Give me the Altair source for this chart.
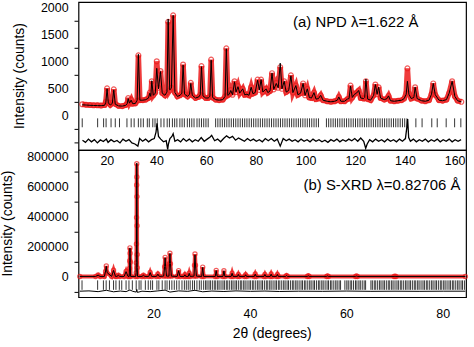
import altair as alt
import pandas as pd

FONT = "Liberation Sans"
RED = "#ec1a1a"

# ---------------- Panel (a): NPD ----------------
tth_a = [
    9.9, 11.5, 13.0, 14.5, 16.0, 17.5, 18.9, 19.4, 19.9, 20.4,
    21.2, 22.0, 22.6, 23.2, 24.5, 26.0, 27.4, 28.0, 28.4, 28.9,
    29.6, 30.2, 31.3, 32.0, 32.5, 33.1, 34.3, 35.5, 36.6, 37.1,
    37.5, 37.9, 38.5, 39.3, 39.9, 40.6, 41.4, 42.1, 43.2, 44.0,
    44.5, 45.1, 45.8, 46.5, 47.2, 48.2, 49.3, 50.0, 50.5, 51.1,
    52.3, 53.1, 53.6, 54.2, 55.5, 56.8, 57.4, 57.9, 58.5, 59.6,
    60.6, 61.3, 61.8, 62.4, 63.6, 65.0, 66.5, 67.4, 67.9, 68.5,
    69.1, 69.7, 70.4, 71.2, 71.8, 72.6, 73.3, 74.5, 75.3, 76.2,
    77.0, 77.9, 78.6, 79.5, 80.5, 81.2, 81.9, 82.6, 83.9, 84.6,
    85.5, 86.3, 87.0, 88.0, 88.8, 89.6, 90.3, 91.2, 92.0, 93.0,
    93.9, 94.7, 95.9, 96.7, 97.8, 98.8, 99.6, 100.5, 101.3, 102.2,
    103.2, 104.0, 105.0, 105.9, 106.8, 108.5, 110.0, 111.5, 112.6, 113.2,
    114.0, 115.5, 116.6, 117.3, 117.9, 118.6, 119.5, 120.3, 121.2, 122.0,
    123.2, 123.6, 124.1, 124.8, 126.0, 127.2, 127.9, 128.6, 129.2, 130.0,
    131.5, 132.6, 133.2, 134.0, 135.5, 137.0, 138.5, 139.5, 140.3, 140.8,
    141.4, 142.3, 143.4, 143.9, 144.7, 146.5, 148.0, 149.5, 150.5, 151.2,
    152.0, 153.5, 155.0, 156.5, 157.6, 158.8, 159.9, 161.0, 162.5]
obs_a = [
    215, 205, 200, 195, 195, 190, 200, 260, 510, 250,
    205, 240, 490, 220, 185, 180, 200, 230, 330, 240,
    300, 225, 230, 280, 1120, 290, 290, 300, 330, 430,
    360, 640, 380, 430, 1010, 520, 830, 420, 380, 430,
    1740, 470, 520, 1860, 430, 360, 380, 420, 950, 400,
    360, 400, 610, 380, 330, 350, 390, 920, 370, 330,
    330, 360, 1040, 340, 300, 290, 300, 360, 1250, 380,
    400, 480, 390, 640, 440, 550, 420, 500, 390, 400,
    380, 530, 410, 430, 670, 480, 670, 440, 500, 430,
    460, 790, 490, 610, 520, 900, 500, 640, 440, 470,
    750, 430, 560, 390, 420, 600, 380, 500, 340, 330,
    430, 310, 320, 380, 290, 270, 260, 270, 290, 350,
    270, 270, 310, 320, 560, 340, 400, 430, 470, 330,
    320, 340, 640, 310, 290, 380, 580, 400, 530, 330,
    300, 320, 370, 280, 270, 280, 290, 320, 420, 880,
    410, 320, 340, 530, 320, 280, 270, 290, 400, 600,
    390, 290, 280, 300, 420, 640, 360, 280, 260]
calc_a = [
    205, 200, 195, 192, 190, 188, 195, 250, 500, 240,
    200, 230, 480, 215, 185, 180, 195, 225, 320, 235,
    290, 225, 230, 290, 1140, 290, 290, 300, 330, 420,
    360, 650, 380, 420, 880, 500, 820, 420, 380, 440,
    1790, 480, 510, 1860, 430, 360, 380, 420, 940, 400,
    360, 400, 600, 380, 330, 350, 390, 910, 370, 330,
    330, 360, 1030, 340, 300, 290, 300, 360, 1240, 380,
    400, 470, 390, 630, 440, 540, 420, 500, 390, 400,
    380, 530, 410, 430, 660, 480, 670, 440, 500, 430,
    460, 790, 490, 600, 520, 975, 500, 640, 440, 470,
    740, 430, 560, 390, 420, 600, 380, 500, 340, 330,
    430, 310, 320, 380, 290, 270, 260, 270, 290, 350,
    270, 270, 310, 320, 550, 340, 400, 420, 470, 330,
    320, 340, 680, 310, 290, 380, 580, 400, 530, 330,
    300, 320, 370, 280, 270, 280, 290, 320, 400, 640,
    400, 320, 340, 530, 320, 280, 270, 290, 400, 600,
    390, 290, 280, 300, 420, 640, 360, 280, 260]

diff_a_x = [
    10.0, 11.2, 12.4, 13.6, 14.8, 16.0, 17.2, 18.4, 19.6, 20.3,
    21.5, 22.7, 23.9, 25.1, 26.3, 27.5, 28.7, 29.9, 31.1, 32.3,
    33.0, 34.2, 35.4, 36.6, 37.8, 38.9, 39.6, 40.0, 40.6, 41.5,
    42.6, 43.7, 44.3, 44.6, 45.2, 46.0, 46.5, 47.2, 48.3, 49.5,
    50.6, 51.8, 53.0, 54.2, 55.4, 56.6, 57.8, 59.0, 60.2, 61.4,
    62.0, 63.2, 64.4, 65.6, 66.8, 68.0, 69.2, 70.4, 71.6, 72.8,
    74.0, 75.2, 76.4, 77.6, 78.8, 80.0, 81.2, 82.4, 83.6, 84.8,
    86.0, 87.2, 88.4, 89.6, 90.8, 92.0, 93.2, 94.4, 95.6, 96.8,
    98.0, 99.2, 100.4, 101.6, 102.8, 104.0, 105.2, 106.4, 107.6, 108.8,
    110.0, 111.2, 112.4, 113.6, 114.8, 116.0, 117.2, 118.4, 119.6, 120.8,
    122.0, 123.2, 124.0, 124.6, 125.6, 126.8, 128.0, 129.2, 130.4, 131.6,
    132.8, 134.0, 135.2, 136.4, 137.6, 138.8, 140.0, 140.6, 140.9, 141.3,
    142.0, 143.2, 144.4, 145.6, 146.8, 148.0, 149.2, 150.4, 151.6, 152.8,
    154.0, 155.2, 156.4, 157.6, 158.8, 160.0, 161.2, 162.4]
diff_a_y = [
    -450, -490, -430, -480, -440, -500, -445, -475, -430, -490,
    -440, -480, -455, -500, -430, -470, -440, -500, -520, -560,
    -420, -470, -430, -480, -440, -420, -300, -140, -380, -430,
    -480, -460, -620, -520, -420, -380, -330, -470, -440, -480,
    -420, -470, -430, -480, -440, -470, -400, -470, -430, -390,
    -360, -460, -430, -480, -420, -370, -410, -380, -450, -410,
    -440, -470, -420, -460, -430, -470, -440, -480, -420, -460,
    -420, -470, -430, -560, -420, -460, -430, -470, -440, -480,
    -430, -470, -440, -480, -430, -470, -440, -480, -450, -490,
    -440, -470, -430, -480, -440, -470, -430, -460, -420, -470,
    -410, -470, -600, -520, -440, -480, -430, -470, -440, -480,
    -430, -470, -440, -480, -430, -470, -420, -200, -60, -400,
    -470, -430, -480, -440, -470, -430, -480, -440, -470, -430,
    -480, -440, -470, -430, -480, -440, -470, -440]

bragg_a = [
    9.9, 16.1, 18.5, 19.5, 21.5, 23.2, 24.9, 27.9, 29.6, 30.8,
    32.5, 33.5, 34.5, 36.1, 36.9, 38.3, 39.2, 40.1, 41.6, 42.8,
    44.1, 45.0, 46.2, 47.1, 48.0, 49.2, 50.1, 51.0, 52.2, 53.1,
    54.0, 54.9, 56.1, 57.0, 57.9, 58.8, 59.7, 60.6, 63.6, 64.5,
    65.4, 66.3, 67.2, 68.1, 69.0, 69.9, 70.8, 71.7, 72.6, 73.5,
    74.4, 75.3, 76.2, 77.1, 78.0, 78.9, 79.8, 80.7, 81.6, 82.5,
    83.4, 84.3, 85.2, 86.1, 87.0, 87.9, 88.8, 89.7, 90.6, 91.5,
    92.4, 93.3, 94.2, 95.1, 96.0, 96.9, 97.8, 98.7, 99.6, 100.5,
    101.4, 102.3, 103.2, 104.1, 105.0, 108.2, 109.1, 110.0, 110.9, 111.8,
    112.7, 113.6, 114.5, 115.4, 116.3, 117.2, 118.1, 119.0, 119.9, 120.8,
    121.7, 122.6, 123.5, 124.4, 125.3, 126.2, 127.1, 128.0, 128.9, 129.8,
    130.7, 131.6, 132.5, 133.4, 134.3, 135.2, 136.1, 137.0, 137.9, 138.8,
    139.7, 140.6, 144.2, 146.7, 150.6, 152.8, 156.4, 159.8, 162.3]

# ---------------- Panel (b): S-XRD ----------------
tth_b = [
    4.6, 7.9, 8.4, 8.8, 9.7, 9.95, 10.1, 10.25, 11.2, 11.6,
    12.0, 12.3, 12.6, 12.9, 13.8, 14.2, 14.6, 14.85, 14.92, 14.96,
    15.0, 15.04, 15.08, 15.14, 16.2, 16.30, 16.33, 16.36, 16.38, 16.40,
    16.42, 16.44, 16.46, 16.48, 16.50, 16.52, 16.58, 17.5, 17.8, 18.1,
    18.9, 19.2, 19.5, 20.5, 20.8, 21.1, 22.0, 22.2, 22.3, 22.4,
    22.6, 23.1, 23.2, 23.3, 23.4, 23.6, 24.8, 25.1, 25.4, 26.2,
    26.4, 26.6, 27.1, 27.3, 27.5, 28.3, 28.4, 28.5, 28.6, 28.8,
    29.9, 30.1, 30.3, 32.7, 32.9, 33.1, 34.3, 34.5, 34.7, 36.0,
    36.2, 36.4, 37.3, 37.5, 37.7, 38.8, 39.0, 39.2, 40.8, 41.0,
    41.2, 42.8, 43.0, 43.2, 44.1, 44.3, 44.5, 45.4, 45.6, 45.8,
    47.3, 47.5, 47.7, 51.8, 52.0, 52.2, 55.8, 56.0, 56.2, 61.8,
    62.0, 62.2, 69.8, 70.0, 70.2, 84.6]
obs_b = [
    6000, 6000, 16000, 6000, 6000, 40000, 76000, 30000, 6000, 48000,
    6000, 6000, 15000, 6000, 6000, 40000, 6000, 6000, 60000, 110000,
    196000, 160000, 100000, 6000, 6000, 30000, 97000, 222000, 398000, 614000,
    755000, 668000, 537000, 343000, 152000, 64000, 6000, 6000, 15000, 6000,
    6000, 33000, 6000, 6000, 22000, 6000, 8000, 70000, 133000, 70000,
    8000, 8000, 90000, 160000, 90000, 8000, 6000, 45000, 6000, 6000,
    18000, 6000, 6000, 28000, 6000, 8000, 80000, 155000, 80000, 8000,
    6000, 68000, 6000, 6000, 46000, 6000, 6000, 44000, 6000, 6000,
    28000, 6000, 6000, 20000, 6000, 6000, 18000, 6000, 6000, 22000,
    6000, 6000, 20000, 6000, 6000, 22000, 6000, 6000, 20000, 6000,
    6000, 12000, 6000, 6000, 11000, 6000, 6000, 10000, 6000, 6000,
    9000, 6000, 6000, 8000, 6000, 6000]
calc_b = [
    6000, 6000, 15000, 6000, 6000, 42000, 74000, 32000, 6000, 46000,
    6000, 6000, 14000, 6000, 6000, 38000, 6000, 6000, 62000, 112000,
    194000, 158000, 98000, 6000, 6000, 32000, 99000, 220000, 400000, 610000,
    760000, 665000, 540000, 340000, 150000, 66000, 6000, 6000, 14000, 6000,
    6000, 32000, 6000, 6000, 21000, 6000, 8000, 72000, 130000, 72000,
    8000, 8000, 92000, 158000, 92000, 8000, 6000, 44000, 6000, 6000,
    17000, 6000, 6000, 27000, 6000, 8000, 82000, 150000, 82000, 8000,
    6000, 66000, 6000, 6000, 45000, 6000, 6000, 43000, 6000, 6000,
    27000, 6000, 6000, 19000, 6000, 6000, 17000, 6000, 6000, 21000,
    6000, 6000, 19000, 6000, 6000, 21000, 6000, 6000, 19000, 6000,
    6000, 11000, 6000, 6000, 10000, 6000, 6000, 9000, 6000, 6000,
    8000, 6000, 6000, 7000, 6000, 6000]

diff_b_x = [
    4.6, 6.5, 8.4, 10.1, 11.6, 13.0, 14.2, 15.0, 15.6, 16.3,
    16.42, 16.55, 17.5, 19.2, 20.8, 22.3, 23.3, 25.1, 27.0, 28.5,
    30.1, 32.0, 34.5, 37.0, 40.0, 43.0, 46.0, 50.0, 55.0, 60.0,
    65.0, 70.0, 75.0, 80.0, 84.6]
diff_b_y = [
    -92000, -90000, -95000, -86000, -96000, -91000, -95000, -84000, -93000, -98000,
    -80000, -100000, -92000, -95000, -90000, -85000, -98000, -90000, -93000, -86000,
    -96000, -91000, -94000, -90000, -93000, -91000, -94000, -92000, -93000, -91000,
    -93000, -92000, -93000, -92000, -92000]

bragg_b = [
    5.06, 8.3, 9.5, 10.07, 10.75, 11.6, 12.1, 12.8, 13.3, 14.2,
    14.8, 15.5, 16.3, 16.9, 17.3, 18.2, 18.8, 19.3, 19.7, 20.6,
    21.0, 21.7, 22.3, 22.7, 23.2, 23.7, 24.2, 24.7, 25.2, 25.8,
    26.3, 26.7, 27.1, 27.5, 28.0, 28.4, 28.9, 29.4, 29.8, 30.3,
    30.7, 31.0, 31.4, 31.7, 32.1, 32.5, 32.8, 33.2, 33.5, 33.9,
    34.3, 34.6, 35.0, 35.3, 35.7, 36.1, 36.4, 36.8, 37.1, 37.5,
    37.9, 38.2, 38.6, 38.9, 39.3, 39.7, 40.0, 40.4, 40.7, 41.1,
    41.5, 41.8, 42.2, 42.5, 42.9, 43.3, 43.6, 44.0, 44.3, 44.7,
    45.1, 45.4, 45.8, 46.1, 46.5, 46.9, 47.2, 47.6, 47.9, 48.3,
    48.7, 49.0, 49.4, 49.7, 50.1, 50.5, 50.8, 51.2, 51.5, 51.9,
    52.3, 52.6, 53.0, 53.3, 53.7, 54.1, 54.4, 54.8, 55.1, 55.5,
    55.9, 56.2, 56.6, 56.9, 57.3, 57.7, 58.0, 58.4, 58.7, 59.6,
    60.0, 60.3, 60.7, 61.0, 61.4, 61.8, 62.1, 62.5, 62.8, 63.2,
    63.6, 63.9, 65.0, 65.3, 65.7, 66.0, 66.4, 66.8, 67.1, 67.5,
    67.8, 68.2, 68.6, 68.9, 69.3, 69.6, 70.0, 70.4, 70.7, 71.1,
    71.4, 71.8, 72.2, 72.5, 72.9, 73.2, 73.6, 74.0, 74.3, 74.7,
    75.0, 75.4, 75.8, 76.1, 76.5, 76.8, 77.2, 77.6, 77.9, 78.3,
    78.6, 79.0, 79.4, 79.7, 80.1, 80.4, 80.8, 81.2, 81.5, 81.9,
    82.2, 82.6, 83.0, 83.3, 83.7, 84.0, 84.4]

# axis tick values and labels
xticks_a = [10, 20, 30, 40, 50, 60, 70, 80, 90, 100, 110, 120, 130, 140, 150, 160]
xlabels_a = [20, 40, 60, 80, 100, 120, 140, 160]
yticks_a = [0, 500, 1000, 1500, 2000]
yminor_a = [-500, -250, 250, 750, 1250, 1750]
xticks_b = [10, 20, 30, 40, 50, 60, 70, 80]
xlabels_b = [20, 40, 60, 80]
yticks_b = [0, 200000, 400000, 600000, 800000]
yminor_b = [-100000, 100000, 300000, 500000, 700000]

label_a = "(a) NPD \u03bb=1.622 \u00c5"
label_b = "(b) S-XRD \u03bb=0.82706 \u00c5"
y_title = "Intensity (counts)"
x_title = "2\u03b8 (degrees)"

W = 390
H_A = 149
H_B = 148


def panel(tth, obs, calc, dx, dy, bragg, yminor, xdom, ydom, xticks, xlabels, yticks,
          label, label_pos, bragg_lo, bragg_hi, h, xlab_dy, ytitle_dx, band, psize,
          diff_w, xtitle=None):
    xs = alt.Scale(domain=xdom, nice=False, zero=False)
    ys = alt.Scale(domain=ydom, nice=False, zero=False)
    prof = pd.DataFrame({"tth": tth, "obs": obs, "calc": calc})
    diff = pd.DataFrame({"tth": dx, "d": dy})
    brg = pd.DataFrame({"pos": bragg, "lo": [bragg_lo] * len(bragg),
                        "hi": [bragg_hi] * len(bragg)})
    minor = pd.DataFrame({"v": yminor})
    txt = pd.DataFrame({"t": [label], "x": [label_pos[0]], "y": [label_pos[1]]})

    x_axis = alt.Axis(values=xticks, labels=False, tickSize=5, domain=False, grid=False)
    y_axis = alt.Axis(values=yticks, labels=False, tickSize=7, domain=False, grid=False)

    base = alt.Chart(prof)
    band_line = base.mark_line(color=RED, strokeWidth=band, opacity=0.85).encode(
        x=alt.X("tth:Q", scale=xs, axis=x_axis, title=None),
        y=alt.Y("obs:Q", scale=ys, axis=y_axis, title=None),
    )
    pts = base.mark_point(shape="circle", color=RED, filled=False, size=psize,
                          strokeWidth=1.2).encode(
        x=alt.X("tth:Q", scale=xs, axis=None),
        y=alt.Y("obs:Q", scale=ys, axis=None),
    )
    calc_line = base.mark_line(color="black", strokeWidth=1).encode(
        x=alt.X("tth:Q", scale=xs, axis=None),
        y=alt.Y("calc:Q", scale=ys, axis=None),
    )
    ticks = alt.Chart(brg).mark_rule(color="black", strokeWidth=0.8).encode(
        x=alt.X("pos:Q", scale=xs, axis=None),
        y=alt.Y("hi:Q", scale=ys, axis=None),
        y2="lo:Q",
    )
    diff_line = alt.Chart(diff).mark_line(color="black", strokeWidth=diff_w).encode(
        x=alt.X("tth:Q", scale=xs, axis=None),
        y=alt.Y("d:Q", scale=ys, axis=None),
    )
    minor_t = alt.Chart(minor).mark_rule(color="black", strokeWidth=1).encode(
        y=alt.Y("v:Q", scale=ys, axis=None),
        x=alt.value(-4),
        x2=alt.value(0),
    )
    text = alt.Chart(txt).mark_text(font=FONT, fontSize=15, color="black",
                                    align="center", baseline="middle").encode(
        text="t:N",
        x=alt.X("x:Q", scale=xs, axis=None),
        y=alt.Y("y:Q", scale=ys, axis=None),
    )
    ylab = alt.Chart(pd.DataFrame({"v": yticks})).mark_text(
        font=FONT, fontSize=12.5, color="black", align="right", baseline="middle"
    ).encode(
        y=alt.Y("v:Q", scale=ys, axis=None),
        x=alt.value(-10),
        text=alt.Text("v:Q", format="d"),
    )
    xlab = alt.Chart(pd.DataFrame({"v": xlabels})).mark_text(
        font=FONT, fontSize=12.5, color="black", align="center", baseline="middle"
    ).encode(
        x=alt.X("v:Q", scale=xs, axis=None),
        y=alt.value(h + xlab_dy),
        text=alt.Text("v:Q", format="d"),
    )
    ytit = alt.Chart(pd.DataFrame({"t": [y_title]})).mark_text(
        font=FONT, fontSize=14, color="black", align="center", baseline="middle",
        angle=270
    ).encode(
        text="t:N",
        x=alt.value(ytitle_dx),
        y=alt.value(h / 2),
    )
    layers = [band_line, pts, calc_line, ticks, diff_line, minor_t, text, ylab, xlab, ytit]
    if xtitle is not None:
        xtit = alt.Chart(pd.DataFrame({"t": [xtitle]})).mark_text(
            font=FONT, fontSize=14, color="black", align="center", baseline="middle"
        ).encode(
            text="t:N",
            x=alt.value(W / 2),
            y=alt.value(h + 37),
        )
        layers.append(xtit)
    return alt.layer(*layers).properties(width=W, height=h)


pa = panel(tth_a, obs_a, calc_a, diff_a_x, diff_a_y, bragg_a, yminor_a,
           [8.4, 164.4], [-634, 2105], xticks_a, xlabels_a, yticks_a, label_a, (120, 1740),
           -211, -46, H_A, 11, -59, 5.5, 24, 1.3)
pb = panel(tth_b, obs_b, calc_b, diff_b_x, diff_b_y, bragg_b, yminor_b,
           [4.33, 84.74], [-132000, 846000], xticks_b, xlabels_b, yticks_b, label_b,
           (67.3, 614000), -83000, -20000, H_B, 17, -71, 4, 18, 1, xtitle=x_title)

chart = alt.vconcat(pa, pb, spacing=0, bounds="flush").properties(
    padding={"left": 0, "top": 0, "right": 0, "bottom": 0}
).configure_view(
    stroke="black", strokeWidth=1.2
).configure_axis(
    tickColor="black", tickWidth=1
)

chart.save("out.html", embed_options={"renderer": "svg", "actions": False})
